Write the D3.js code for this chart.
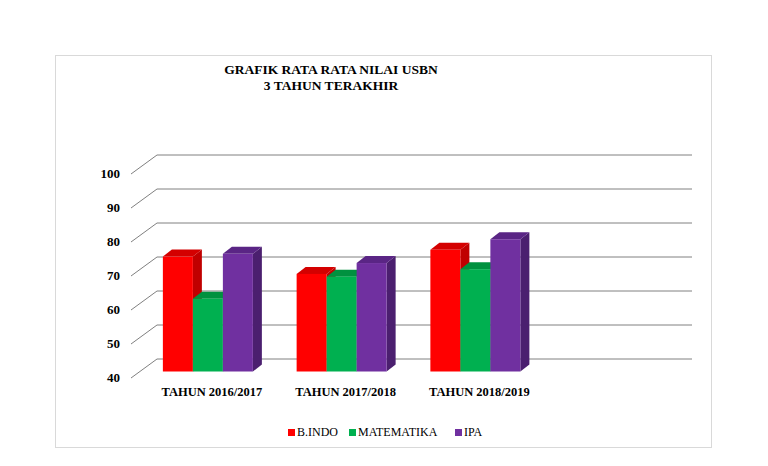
<!DOCTYPE html>
<html><head><meta charset="utf-8">
<script src="https://cdn.jsdelivr.net/npm/d3@7"></script>
<style>body{margin:0;background:#fff}svg{font-family:"Liberation Serif","Times New Roman",serif}</style>
</head><body>
<svg id="chart" width="768" height="466"></svg>
<script>
var categories = ["TAHUN  2016/2017", "TAHUN  2017/2018", "TAHUN 2018/2019", ""]
var series = ["B.INDO", "MATEMATIKA", "IPA"]
var bindo = [73.8, 68.7, 75.8]
var matematika = [61.4, 67.9, 70.1]
var ipa = [74.6, 71.9, 78.9]
var ticks = [40, 50, 60, 70, 80, 90, 100]
var colors = ["#ff0000", "#00b050", "#7030a0"]
var sideColors = ["#c00000", "#008a3e", "#4b1f6f"]
var topColors = ["#d40000", "#00913f", "#5a2585"]

var svg = d3.select("#chart")
svg.append("rect").attr("x", 55.5).attr("y", 55.5).attr("width", 656).attr("height", 392)
    .attr("fill", "none").attr("stroke", "#d9d9d9")

var depth = {x: 26, y: -19}
var barShift = {x: 10, y: -6.5}
var barDepth = {x: 9, y: -7}

var x = d3.scaleBand().domain(categories).range([131, 666])
var y = d3.scaleLinear().domain([40, 100]).range([378, 174])

// grid (front diagonal + back wall line)
var grid = svg.append("g").attr("stroke", "#808080").attr("fill", "none")
ticks.forEach(function(t){
  grid.append("path")
      .attr("d", "M" + 131 + "," + y(t) + "L" + (131 + depth.x) + "," + (y(t) + depth.y) + "L" + (666 + depth.x) + "," + (y(t) + depth.y))
})

svg.selectAll(".tick").data(ticks).enter().append("text")
    .attr("x", 120).attr("y", function(d){ return y(d) + 4 })
    .attr("text-anchor", "end").attr("font-size", 13).attr("font-weight", "bold")
    .text(function(d){ return d })

var data = [bindo, matematika, ipa]
var barW = 30
categories.slice(0, 3).forEach(function(c, ci){
  var start = x(c) + (x.bandwidth() - 3 * barW) / 2 + barShift.x
  var base = y(40) + barShift.y
  data.forEach(function(s, si){
    var x0 = start + si * barW, x1 = x0 + barW
    var top = y(s[ci]) + barShift.y
    var g = svg.append("g")
    g.append("path").attr("fill", sideColors[si])
        .attr("d", "M" + x1 + "," + top + "L" + (x1 + barDepth.x) + "," + (top + barDepth.y) + "L" + (x1 + barDepth.x) + "," + (base + barDepth.y) + "L" + x1 + "," + base + "Z")
    g.append("path").attr("fill", topColors[si])
        .attr("d", "M" + x0 + "," + top + "L" + (x0 + barDepth.x) + "," + (top + barDepth.y) + "L" + (x1 + barDepth.x) + "," + (top + barDepth.y) + "L" + x1 + "," + top + "Z")
    g.append("rect").attr("fill", colors[si]).attr("x", x0).attr("y", top).attr("width", barW).attr("height", base - top)
  })
  svg.append("text").attr("x", x(c) + x.bandwidth() / 2 + 14).attr("y", 396)
      .attr("text-anchor", "middle").attr("font-size", 12.5).attr("font-weight", "bold")
      .text(c)
})

svg.append("text").attr("x", 331).attr("y", 74).attr("text-anchor", "middle")
    .attr("font-size", 13.5).attr("font-weight", "bold").text("GRAFIK RATA RATA NILAI USBN")
svg.append("text").attr("x", 331).attr("y", 90).attr("text-anchor", "middle")
    .attr("font-size", 13.5).attr("font-weight", "bold").text("3 TAHUN TERAKHIR")

var legX = [288, 349, 455]
series.forEach(function(s, i){
  svg.append("rect").attr("x", legX[i]).attr("y", 429).attr("width", 7).attr("height", 7).attr("fill", colors[i])
  svg.append("text").attr("x", legX[i] + 9).attr("y", 436).attr("font-size", 12).text(s)
})
</script>
</body></html>
